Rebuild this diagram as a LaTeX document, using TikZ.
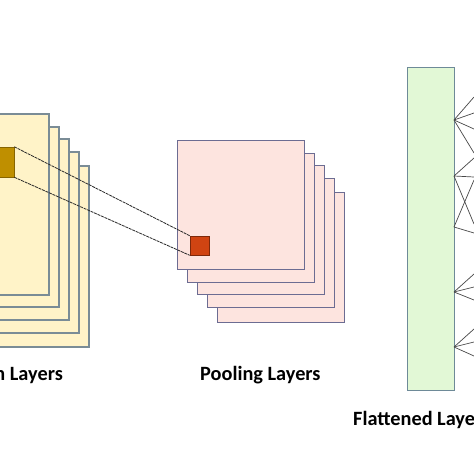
\documentclass[tikz,border=0pt]{standalone}
\usepackage{fontspec}
\setmainfont{Carlito}
\definecolor{convfill}{HTML}{FFF3C8}
\definecolor{convdraw}{HTML}{7A8C96}
\definecolor{poolfill}{HTML}{FDE4DF}
\definecolor{pooldraw}{HTML}{6C6C92}
\definecolor{flatfill}{HTML}{E2F8D6}
\definecolor{flatdraw}{HTML}{6E8A98}
\definecolor{kernel}{HTML}{BF8F00}
\definecolor{poolcell}{HTML}{D04412}
\definecolor{linkc}{HTML}{282828}
\tikzset{
  convsheet/.style={fill=convfill,draw=convdraw,line width=1.1pt},
  poolsheet/.style={fill=poolfill,draw=pooldraw,line width=1pt},
  flatbar/.style={fill=flatfill,draw=flatdraw,line width=1pt},
  proj/.style={draw=linkc,line width=0.8pt,dash pattern=on 3pt off 0.8pt},
  fan/.style={draw=linkc!85,line width=0.7pt},
  lbl/.style={font=\bfseries\fontsize{20.3}{22}\selectfont,inner sep=0pt}
}
\begin{document}
\begin{tikzpicture}[x=1pt,y=-1pt]
\useasboundingbox (0,0) rectangle (474,474);
\fill[white] (0,0) rectangle (474,474);
% convolution sheets (back to front)
\path[convsheet] (-60,166) rectangle (89,347);
\path[convsheet] (-70,152) rectangle (79,333);
\path[convsheet] (-80,139) rectangle (69,320);
\path[convsheet] (-90,127) rectangle (59,307);
\path[convsheet] (-100,114) rectangle (49,295);
\node[fill=kernel,draw=kernel!70!black,line width=0.5pt,minimum width=30pt,minimum height=30pt,inner sep=0pt] (kern) at (-1,162) {};
% pooling sheets
\path[poolsheet] (217,192) rectangle (344,322);
\path[poolsheet] (207,178) rectangle (334,307);
\path[poolsheet] (197,165) rectangle (324,294);
\path[poolsheet] (187,153) rectangle (314,282);
\path[poolsheet] (177,140) rectangle (304,269);
\node[fill=poolcell,draw=poolcell!60!black,line width=0.6pt,minimum width=19pt,minimum height=19pt,inner sep=0pt] (cell) at (199.5,245.5) {};
% projection lines
\draw[proj] (kern.north east) -- (cell.north west);
\draw[proj] (kern.south east) -- (cell.south west);
% flattened layer
\node[flatbar,minimum width=47pt,minimum height=323pt,inner sep=0pt] (flat) at (430.5,228.5) {};
\coordinate (fa) at (454,120);
\coordinate (fb) at (454,176);
\coordinate (fc) at (454,227);
\coordinate (fd) at (454,292);
\coordinate (fe) at (454,347);
\foreach \y [count=\i] in {97,113,129,153} \coordinate (ta\i) at (474,\y);
\foreach \y [count=\i] in {158,177,224} \coordinate (tb\i) at (474,\y);
\foreach \y [count=\i] in {180,233} \coordinate (tc\i) at (474,\y);
\foreach \y [count=\i] in {274,287,300} \coordinate (td\i) at (474,\y);
\foreach \y [count=\i] in {329,342,356} \coordinate (te\i) at (474,\y);
\foreach \i in {1,...,4} \draw[fan] (fa) -- (ta\i);
\foreach \i in {1,...,3} \draw[fan] (fb) -- (tb\i);
\foreach \i in {1,2} \draw[fan] (fc) -- (tc\i);
\foreach \i in {1,...,3} \draw[fan] (fd) -- (td\i);
\foreach \i in {1,...,3} \draw[fan] (fe) -- (te\i);
% labels
\node[lbl,anchor=base east] (convlbl) at (63,380) {Convolution Layers};
\node[lbl,anchor=base west] (poollbl) at (200,380) {Pooling Layers};
\node[lbl,anchor=base west] (flatlbl) at (353,425) {Flattened Layer};
\end{tikzpicture}
\end{document}
